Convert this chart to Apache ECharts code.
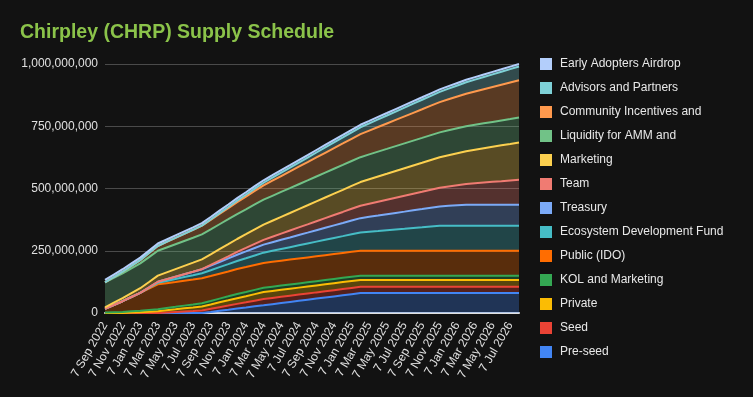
<!DOCTYPE html>
<html>
<head>
<meta charset="utf-8">
<title>Chirpley (CHRP) Supply Schedule</title>
<script src="https://cdn.jsdelivr.net/npm/echarts@6/dist/echarts.min.js"></script>
<style>
  html, body { margin: 0; padding: 0; background: #121212; }
  #supply-chart { width: 753px; height: 397px; }
</style>
</head>
<body>
<div id="supply-chart"></div>
<script>
  // monthly dates (one year per row), values in millions of CHRP
  const dates = [
    '7 Sep 2022', '7 Oct 2022', '7 Nov 2022', '7 Dec 2022', '7 Jan 2023', '7 Feb 2023',
    '7 Mar 2023', '7 Apr 2023', '7 May 2023', '7 Jun 2023', '7 Jul 2023', '7 Aug 2023',
    '7 Sep 2023', '7 Oct 2023', '7 Nov 2023', '7 Dec 2023', '7 Jan 2024', '7 Feb 2024',
    '7 Mar 2024', '7 Apr 2024', '7 May 2024', '7 Jun 2024', '7 Jul 2024', '7 Aug 2024',
    '7 Sep 2024', '7 Oct 2024', '7 Nov 2024', '7 Dec 2024', '7 Jan 2025', '7 Feb 2025',
    '7 Mar 2025', '7 Apr 2025', '7 May 2025', '7 Jun 2025', '7 Jul 2025', '7 Aug 2025',
    '7 Sep 2025', '7 Oct 2025', '7 Nov 2025', '7 Dec 2025', '7 Jan 2026', '7 Feb 2026',
    '7 Mar 2026', '7 Apr 2026', '7 May 2026', '7 Jun 2026', '7 Jul 2026', '7 Aug 2026'];

  const preSeed = [
    0, 0, 0, 0, 0, 0, 0, 0, 0, 0, 0, 0,
    4.4, 8.9, 13.3, 17.8, 22.2, 26.7, 31.1, 35.6, 40, 44.4, 48.9, 53.3,
    57.8, 62.2, 66.7, 71.1, 75.6, 80, 80, 80, 80, 80, 80, 80,
    80, 80, 80, 80, 80, 80, 80, 80, 80, 80, 80, 80];
  const seed = [
    0, 0, 0, 0, 0, 0, 0, 2.1, 4.2, 6.3, 8.3, 10.4,
    12.5, 14.6, 16.7, 18.8, 20.8, 22.9, 25, 25, 25, 25, 25, 25,
    25, 25, 25, 25, 25, 25, 25, 25, 25, 25, 25, 25,
    25, 25, 25, 25, 25, 25, 25, 25, 25, 25, 25, 25];
  const privateSale = [
    0, 0, 0, 1.8, 3.5, 5.3, 7, 8.8, 10.5, 12.3, 14, 15.8,
    17.5, 19.3, 21, 22.8, 24.5, 26.3, 28, 28, 28, 28, 28, 28,
    28, 28, 28, 28, 28, 28, 28, 28, 28, 28, 28, 28,
    28, 28, 28, 28, 28, 28, 28, 28, 28, 28, 28, 28];
  const kolMarketing = [
    2, 3, 4, 5, 6, 7, 8, 9, 10, 11, 12, 13,
    14, 15, 16, 17, 17, 17, 17, 17, 17, 17, 17, 17,
    17, 17, 17, 17, 17, 17, 17, 17, 17, 17, 17, 17,
    17, 17, 17, 17, 17, 17, 17, 17, 17, 17, 17, 17];
  const publicIdo = [
    15, 29.2, 43.3, 57.5, 71.7, 85.8, 100, 100, 100, 100, 100, 100,
    100, 100, 100, 100, 100, 100, 100, 100, 100, 100, 100, 100,
    100, 100, 100, 100, 100, 100, 100, 100, 100, 100, 100, 100,
    100, 100, 100, 100, 100, 100, 100, 100, 100, 100, 100, 100];
  const ecosystem = [
    0, 0, 0, 0, 0, 2.9, 5.9, 8.8, 11.8, 14.7, 17.6, 20.6,
    23.5, 26.5, 29.4, 32.4, 35.3, 38.2, 41.2, 44.1, 47.1, 50, 52.9, 55.9,
    58.8, 61.8, 64.7, 67.6, 70.6, 73.5, 76.5, 79.4, 82.4, 85.3, 88.2, 91.2,
    94.1, 97.1, 100, 100, 100, 100, 100, 100, 100, 100, 100, 100];
  const treasury = [
    0, 0, 0, 0, 0, 2.3, 4.6, 6.9, 9.2, 11.5, 13.8, 16.1,
    18.4, 20.7, 23, 25.3, 27.6, 29.9, 32.2, 34.5, 36.8, 39.1, 41.4, 43.6,
    45.9, 48.2, 50.5, 52.8, 55.1, 57.4, 59.7, 62, 64.3, 66.6, 68.9, 71.2,
    73.5, 75.8, 78.1, 80.4, 82.7, 85, 85, 85, 85, 85, 85, 85];
  const team = [
    0, 0, 0, 0, 0, 0, 0, 0, 0, 0, 0, 0,
    2.8, 5.6, 8.3, 11.1, 13.9, 16.7, 19.4, 22.2, 25, 27.8, 30.6, 33.3,
    36.1, 38.9, 41.7, 44.4, 47.2, 50, 52.8, 55.6, 58.3, 61.1, 63.9, 66.7,
    69.4, 72.2, 75, 77.8, 80.6, 83.3, 86.1, 88.9, 91.7, 94.4, 97.2, 100];
  const marketing = [
    6, 9.1, 12.1, 15.2, 18.3, 21.3, 24.4, 27.4, 30.5, 33.6, 36.6, 39.7,
    42.8, 45.8, 48.9, 52, 55, 58.1, 61.1, 64.2, 67.3, 70.3, 73.4, 76.5,
    79.5, 82.6, 85.7, 88.7, 91.8, 94.9, 97.9, 101, 104, 107.1, 110.2, 113.2,
    116.3, 119.4, 122.4, 125.5, 128.6, 131.6, 134.7, 137.8, 140.8, 143.9, 146.9, 150];
  const liquidity = [
    100, 100, 100, 100, 100, 100, 100, 100, 100, 100, 100, 100,
    100, 100, 100, 100, 100, 100, 100, 100, 100, 100, 100, 100,
    100, 100, 100, 100, 100, 100, 100, 100, 100, 100, 100, 100,
    100, 100, 100, 100, 100, 100, 100, 100, 100, 100, 100, 100];
  const community = [
    0, 3.2, 6.4, 9.6, 12.8, 16, 19.1, 22.3, 25.5, 28.7, 31.9, 35.1,
    38.3, 41.5, 44.7, 47.9, 51.1, 54.3, 57.4, 60.6, 63.8, 67, 70.2, 73.4,
    76.6, 79.8, 83, 86.2, 89.4, 92.6, 95.7, 98.9, 102.1, 105.3, 108.5, 111.7,
    114.9, 118.1, 121.3, 124.5, 127.7, 130.9, 134, 137.2, 140.4, 143.6, 146.8, 150];
  const advisors = [
    0, 0, 0, 0, 0, 0, 0, 0, 0, 0, 0, 0,
    1.5, 3.1, 4.6, 6.1, 7.6, 9.2, 10.7, 12.2, 13.8, 15.3, 16.8, 18.3,
    19.9, 21.4, 22.9, 24.4, 26, 27.5, 29, 30.6, 32.1, 33.6, 35.1, 36.7,
    38.2, 39.7, 41.3, 42.8, 44.3, 45.8, 47.4, 48.9, 50.4, 51.9, 53.5, 55];
  const earlyAdopters = [
    10, 10, 10, 10, 10, 10, 10, 10, 10, 10, 10, 10,
    10, 10, 10, 10, 10, 10, 10, 10, 10, 10, 10, 10,
    10, 10, 10, 10, 10, 10, 10, 10, 10, 10, 10, 10,
    10, 10, 10, 10, 10, 10, 10, 10, 10, 10, 10, 10];

  // bottom of the stack first
  const allocations = [
    {name: 'Pre-seed', color: '#4285F4', data: preSeed},
    {name: 'Seed', color: '#EA4335', data: seed},
    {name: 'Private', color: '#FBBC04', data: privateSale},
    {name: 'KOL and Marketing', color: '#34A853', data: kolMarketing},
    {name: 'Public (IDO)', color: '#FF6D01', data: publicIdo},
    {name: 'Ecosystem Development Fund', color: '#46BDC6', data: ecosystem},
    {name: 'Treasury', color: '#7BAAF7', data: treasury},
    {name: 'Team', color: '#F07B72', data: team},
    {name: 'Marketing', color: '#FCD04F', data: marketing},
    {name: 'Liquidity for AMM and', color: '#71C287', data: liquidity},
    {name: 'Community Incentives and', color: '#FF994D', data: community},
    {name: 'Advisors and Partners', color: '#7ED1D7', data: advisors},
    {name: 'Early Adopters Airdrop', color: '#B3CEFB', data: earlyAdopters},
  ];

  const font = '"Liberation Sans", Arial, sans-serif';
  const chart = echarts.init(document.getElementById('supply-chart'));

  chart.setOption({
    backgroundColor: '#121212',
    animation: false,
    textStyle: {fontFamily: font},
    title: {
      text: 'Chirpley (CHRP) Supply Schedule',
      left: 15,
      top: 18,
      textStyle: {color: '#8BC34A', fontSize: 19.5, fontWeight: 'bold', fontFamily: font},
    },
    legend: {
      orient: 'vertical',
      left: 535,
      top: 53,
      icon: 'rect',
      itemWidth: 12,
      itemHeight: 12,
      itemGap: 12,
      textStyle: {color: '#e8e8e8', fontSize: 12, padding: [0, 0, 0, 3]},
      data: allocations.map(a => a.name).reverse(),
    },
    grid: {
      left: 105,
      right: 234,
      top: 64,
      bottom: 84,
    },
    xAxis: {
      type: 'category',
      boundaryGap: false,
      data: dates,
      axisLine: {lineStyle: {color: '#e0e0e0', width: 2}},
      axisTick: {show: false},
      axisLabel: {
        color: '#e0e0e0',
        fontSize: 12,
        rotate: 60,
        interval: 1,
        margin: 10,
      },
    },
    yAxis: {
      type: 'value',
      min: 0,
      max: 1000,
      interval: 250,
      axisLine: {show: false},
      axisTick: {show: false},
      axisLabel: {
        color: '#e0e0e0',
        fontSize: 12,
        margin: 7,
        formatter: v => (v * 1000000).toLocaleString('en-US'),
      },
      splitLine: {lineStyle: {color: '#4a4a4a'}},
    },
    series: allocations.map(a => ({
      name: a.name,
      type: 'line',
      stack: 'supply',
      symbol: 'none',
      color: a.color,
      lineStyle: {width: 2, color: a.color},
      areaStyle: {color: a.color, opacity: 0.3},
      data: a.data,
    })),
  });
</script>
</body>
</html>
